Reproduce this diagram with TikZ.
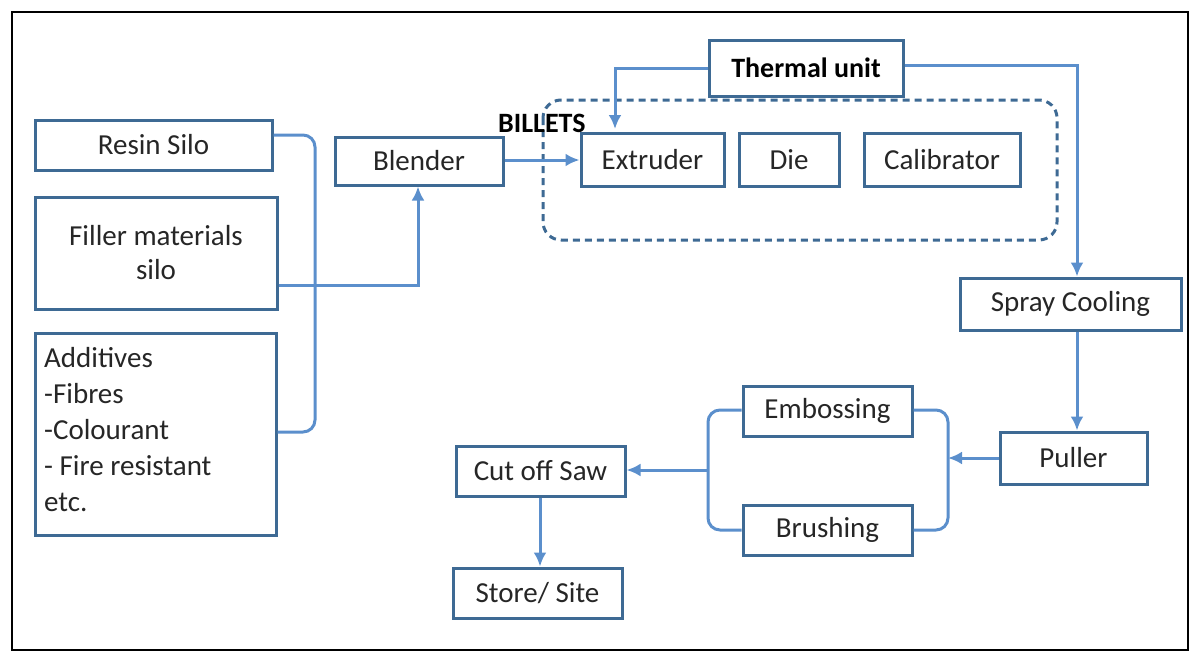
\documentclass[tikz,border=0pt]{standalone}
\usepackage{fontspec}
\setmainfont{Carlito}
\begin{document}
\begin{tikzpicture}[x=1pt,y=-1pt,
 box/.style={draw=boxc,line width=3pt,inner sep=0pt},
 ft/.style={font=\fontsize{29}{32}\selectfont,text=black!85},
 ln/.style={draw=linec,line width=3pt,rounded corners=12pt},
 arr/.style={ln,-{Latex[length=14pt,width=13pt]}}]
\usetikzlibrary{arrows.meta}
\definecolor{boxc}{HTML}{3E6A94}
\definecolor{linec}{HTML}{5B8FCC}
\useasboundingbox (0,0) rectangle (1200,659);
\draw[line width=2.5pt] (12,12) rectangle (1188,650);
\newcommand{\bx}[5]{\node[box,minimum width={#4-#2},minimum height={#5-#3}] (#1) at ({(#2+#4)/2},{(#3+#5)/2}) {};}
\bx{resin}{35}{120}{272}{170}\node[ft] at (resin) {Resin Silo};
\bx{filler}{35}{197}{277}{309}\node[ft,font=\fontsize{29}{34}\selectfont,align=center] at (filler) {Filler materials\\silo};
\bx{add}{35}{333}{276}{535}\node[ft,font=\fontsize{29}{36}\selectfont,align=left,anchor=north west,inner sep=0pt] at (44,347) {Additives\\-Fibres\\-Colourant\\- Fire resistant\\etc.};
\bx{blender}{335}{137}{503}{185}\node[ft] at (blender) {Blender};
\draw[boxc,line width=3pt,dash pattern=on 7pt off 5pt,rounded corners=18pt] (543,100) rectangle (1057,240);
\bx{extr}{581}{133}{724}{186}\node[ft] at (extr) {Extruder};
\bx{die}{739}{133}{839}{186}\node[ft] at (die) {Die};
\bx{cal}{864}{133}{1020}{186}\node[ft] at (cal) {Calibrator};
\bx{therm}{709}{40}{903}{96}\node[ft,font=\bfseries\fontsize{28}{30}\selectfont,text=black] at (therm) {Thermal unit};
\node[font=\bfseries\fontsize{28}{30}\selectfont,anchor=west,inner sep=0pt] (bil) at (498,123) {BILLETS};
\bx{spray}{960}{278}{1181}{330}\node[ft] at (spray) {Spray Cooling};
\bx{puller}{1000}{432}{1147}{484}\node[ft] at (puller) {Puller};
\bx{emb}{743}{386}{912}{436}\node[ft] at (emb) {Embossing};
\bx{bru}{743}{505}{912}{555}\node[ft] at (bru) {Brushing};
\bx{saw}{456}{446}{625}{496}\node[ft] at (saw) {Cut off Saw};
\bx{store}{453}{568}{622}{618}\node[ft] at (store) {Store/ Site};
% connectors
\draw[ln] (resin.east|-0,135) -- (315,135) -- (315,432) -- (add.east|-0,432);
\draw[arr,rounded corners=0pt] (filler.east|-0,285) -- (418,285) -- (blender.south-|418,0);
\draw[arr] (blender.east|-0,160) -- (extr.west|-0,160);
\coordinate (tl) at (615,129);
\draw[arr,rounded corners=0pt] (therm.west|-0,68) -- (615,68) -- (tl);
\draw[arr,rounded corners=0pt] (therm.east|-0,65) -- (1077,65) -- (spray.north-|1077,0);
\draw[arr] (spray.south-|1077,0) -- (puller.north-|1077,0);
\coordinate (rb) at (948,458);
\draw[ln] (emb.east|-0,410) -- (948,410) -- (948,530) -- (bru.east|-0,530);
\draw[arr] (puller.west|-0,458) -- (rb);
\coordinate (lb) at (708,470);
\draw[ln] (emb.west|-0,410) -- (708,410) -- (708,530) -- (bru.west|-0,530);
\draw[arr] (lb) -- (saw.east|-0,470);
\draw[arr] (saw.south-|540,0) -- (store.north-|540,0);
\end{tikzpicture}
\end{document}
